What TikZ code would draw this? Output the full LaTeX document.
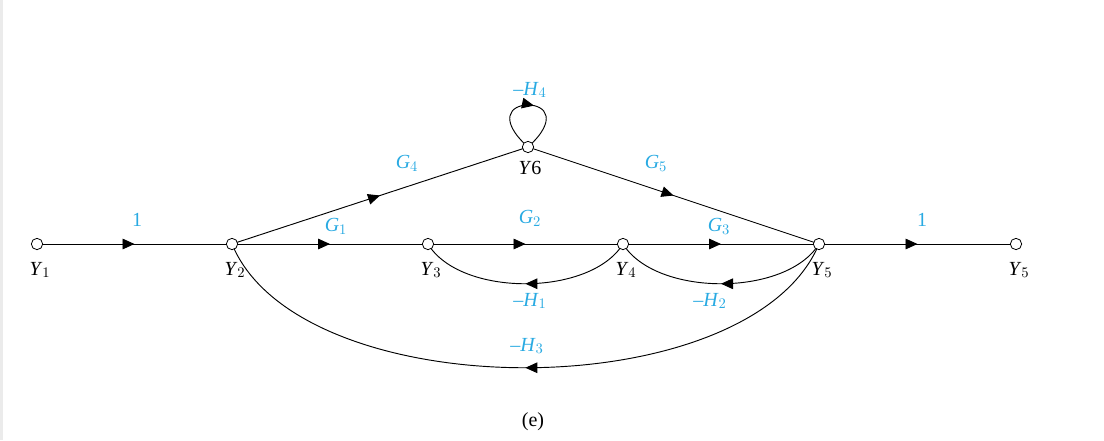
\documentclass[tikz,border=0pt]{standalone}
\usepackage{fontspec}
\setmainfont{Liberation Serif}
\usetikzlibrary{decorations.markings,arrows.meta}
\definecolor{lbl}{RGB}{41,170,226}
\begin{document}
\begin{tikzpicture}[x=0.75pt,y=-0.75pt,
  nd/.style={circle,draw,fill=white,inner sep=0pt,minimum size=8.5pt,line width=0.6pt},
  br/.style={line width=0.7pt,postaction={decorate},decoration={markings,mark=at position #1 with {\arrow{Triangle[length=9pt,width=8pt]}}}},
  br/.default=0.5,
  gl/.style={text=lbl,font=\fontsize{15}{15}\selectfont},
  yl/.style={font=\fontsize{15}{15}\selectfont}]
\useasboundingbox (0,0) rectangle (1104,440);
\fill[black!8] (0,0) rectangle (3,440);
\coordinate (p1) at (37,244);
\coordinate (p2) at (232,244);
\coordinate (p3) at (428,244);
\coordinate (p4) at (623,244);
\coordinate (p5) at (819,244);
\coordinate (p6) at (1016,244);
\coordinate (p7) at (528,147);
\draw[br] (p1) -- (p2);
\draw[br] (p2) -- (p3);
\draw[br] (p3) -- (p4);
\draw[br] (p4) -- (p5);
\draw[br] (p5) -- (p6);
\draw[br] (p2) -- (p7);
\draw[br] (p7) -- (p5);
\draw[br] (p4) .. controls (590,297) and (460,297) .. (p3);
\draw[br] (p5) .. controls (786,297) and (656,297) .. (p4);
\draw[br] (p5) .. controls (750,409) and (300,409) .. (p2);
\draw[br=0.55] (p7) .. controls (498,120) and (510,105) .. (528,105) .. controls (546,105) and (558,120) .. (p7);
\node[nd] (y1) at (p1) {};
\node[nd] (y2) at (p2) {};
\node[nd] (y3) at (p3) {};
\node[nd] (y4) at (p4) {};
\node[nd] (y5) at (p5) {};
\node[nd] (y5b) at (p6) {};
\node[nd] (y6) at (p7) {};
\node[yl] (t1) at (40,270) {\textit{Y}$_1$};
\node[yl] (t2) at (235,270) {\textit{Y}$_2$};
\node[yl] (t3) at (431,270) {\textit{Y}$_3$};
\node[yl] (t4) at (626,270) {\textit{Y}$_4$};
\node[yl] (t5) at (822,270) {\textit{Y}$_5$};
\node[yl] (t5b) at (1019,270) {\textit{Y}$_5$};
\node[yl] (t6) at (530,168) {\textit{Y}6};
\node[gl] (l1) at (137,220) {1};
\node[gl] (l2) at (922,220) {1};
\node[gl] (g4) at (407,163) {\textit{G}$_4$};
\node[gl] (g5) at (656,163) {\textit{G}$_5$};
\node[gl] (g1) at (336,226) {\textit{G}$_1$};
\node[gl] (g2) at (530,218) {\textit{G}$_2$};
\node[gl] (g3) at (719,226) {\textit{G}$_3$};
\node[gl] (h1) at (530,301) {--\textit{H}$_1$};
\node[gl] (h2) at (710,301) {--\textit{H}$_2$};
\node[gl] (h3) at (527,346) {--\textit{H}$_3$};
\node[gl] (h4) at (530,90) {--\textit{H}$_4$};
\node[yl] (e) at (533,422) {(e)};
\end{tikzpicture}
\end{document}
